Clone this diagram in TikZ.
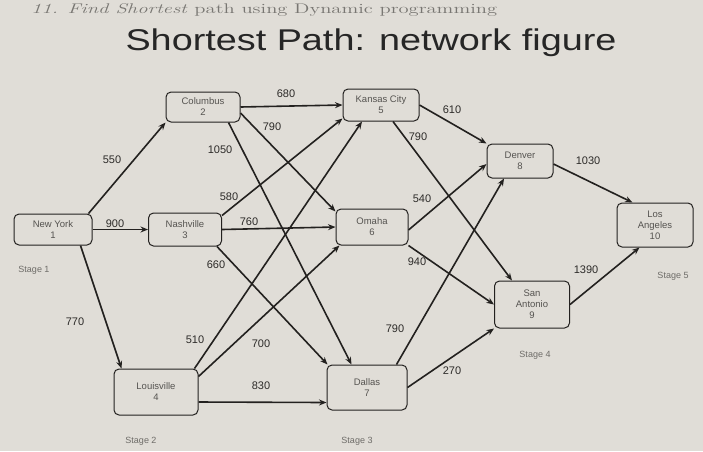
\documentclass[tikz,border=0pt]{standalone}
\usepackage{fontspec}
\newfontfamily\arial{Liberation Sans}
\usetikzlibrary{arrows.meta}
\definecolor{paper}{RGB}{224,221,215}
\definecolor{linec}{RGB}{35,33,31}
\definecolor{nodetext}{RGB}{85,83,80}
\definecolor{labtext}{RGB}{45,43,41}
\definecolor{stagec}{RGB}{110,108,104}
\definecolor{topc}{RGB}{120,118,114}
\begin{document}
\begin{tikzpicture}[x=1pt,y=-1pt,
  city/.style={draw=linec, line width=1pt, rounded corners=5pt, fill=paper,
    font=\arial\fontsize{9.5}{11}\selectfont, text=nodetext, align=center, inner sep=0pt},
  road/.style={draw=linec, line width=1.6pt, -{Stealth[length=7.5pt,width=6pt]}},
  wt/.style={font=\arial\fontsize{11}{11}\selectfont, text=labtext, inner sep=1pt},
  stage/.style={font=\arial\fontsize{9}{9}\selectfont, text=stagec, inner sep=1pt}]
\fill[paper] (0,0) rectangle (703,451);
\useasboundingbox (0,0) rectangle (703,451);
% headings
\node[anchor=base west, inner sep=0pt, text=topc, font=\rmfamily\fontsize{14}{14}\selectfont] (top) at (31,13)
  {\scalebox{1.47}[1]{\textit{11. Find Shortest} path using Dynamic programming}};
\node[anchor=base, inner sep=0pt, text=black!85, font=\arial\fontsize{30}{30}\selectfont] (title) at (371,50)
  {\scalebox{1.26}[1]{Shortest Path: network figure}};
% cities
\node[city, minimum width=78pt, minimum height=31pt] (ny) at (53,229.5) {New York\\1};
\node[city, minimum width=74pt, minimum height=30pt] (co) at (203,107) {Columbus\\2};
\node[city, minimum width=73pt, minimum height=33pt] (na) at (185,229.5) {Nashville\\3};
\node[city, minimum width=84pt, minimum height=46pt] (lo) at (156,392) {Louisville\\4};
\node[city, minimum width=76pt, minimum height=32pt] (ks) at (381,105) {Kansas City\\5};
\node[city, minimum width=72pt, minimum height=36pt] (om) at (372,227) {Omaha\\6};
\node[city, minimum width=80pt, minimum height=45pt] (da) at (367,387.5) {Dallas\\7};
\node[city, minimum width=66pt, minimum height=34pt] (de) at (520,161) {Denver\\8};
\node[city, minimum width=75pt, minimum height=47pt] (sa) at (532,304.5) {San\\Antonio\\9};
\node[city, minimum width=76pt, minimum height=44pt] (la) at (655,225) {Los\\Angeles\\10};
% roads
\draw[road] ([xshift=-4pt]ny.north east) -- (co.south west);
\draw[road] (ny.east) -- (na.west);
\draw[road] ([xshift=-12pt]ny.south east) -- ([xshift=8pt]lo.north west);
\draw[road] (co.east) -- (ks.west);
\draw[road] ([yshift=-6pt]co.east) -- ([yshift=-3pt]om.north west);
\draw[road] ([xshift=-12pt]co.south east) -- ([xshift=25pt]da.north west);
\draw[road] ([yshift=-3pt]na.north east) -- ([yshift=3pt]ks.south west);
\draw[road] (na.east) -- (om.west);
\draw[road] ([xshift=-5pt]na.south east) -- ([xshift=1pt]da.north west);
\draw[road] ([xshift=-4pt]lo.north east) -- ([xshift=-19pt]ks.south);
\draw[road] ([yshift=-8pt]lo.north east) -- ([xshift=4pt]om.south west);
\draw[road] ([yshift=-10pt]lo.east) -- ([yshift=-15pt]da.west);
\draw[road] (ks.east) -- (de.north west);
\draw[road] ([xshift=12pt]ks.south) -- ([xshift=18pt]sa.north west);
\draw[road] ([yshift=-3pt]om.east) -- ([yshift=-3pt]de.west);
\draw[road] (om.south east) -- (sa.west);
\draw[road] ([xshift=-11pt]da.north east) -- ([xshift=-16pt]de.south);
\draw[road] (da.east) -- (sa.south west);
\draw[road] ([yshift=-3pt]de.east) -- ([xshift=16pt]la.north west);
\draw[road] (sa.east) -- ([xshift=23pt]la.south west);
% weights
\node[wt] (w12) at (112,160) {550};
\node[wt] (w13) at (115,224) {900};
\node[wt] (w14) at (75,322) {770};
\node[wt] (w25) at (286,94) {680};
\node[wt] (w26) at (272,127) {790};
\node[wt] (w27) at (220,150) {1050};
\node[wt] (w35) at (229,197) {580};
\node[wt] (w36) at (249,222) {760};
\node[wt] (w37) at (216,265) {660};
\node[wt] (w45) at (195,340) {510};
\node[wt] (w46) at (261,344) {700};
\node[wt] (w47) at (261,386) {830};
\node[wt] (w58) at (452,110) {610};
\node[wt] (w59) at (418,137) {790};
\node[wt] (w68) at (422,199) {540};
\node[wt] (w69) at (417,262) {940};
\node[wt] (w78) at (395,329) {790};
\node[wt] (w79) at (452,371) {270};
\node[wt] (w810) at (588,161) {1030};
\node[wt] (w910) at (586,270) {1390};
% stages
\node[stage] (s1) at (34,270) {Stage 1};
\node[stage] (s2) at (141,441) {Stage 2};
\node[stage] (s3) at (357,441) {Stage 3};
\node[stage] (s4) at (535,355) {Stage 4};
\node[stage] (s5) at (673,276) {Stage 5};
\end{tikzpicture}
\end{document}
